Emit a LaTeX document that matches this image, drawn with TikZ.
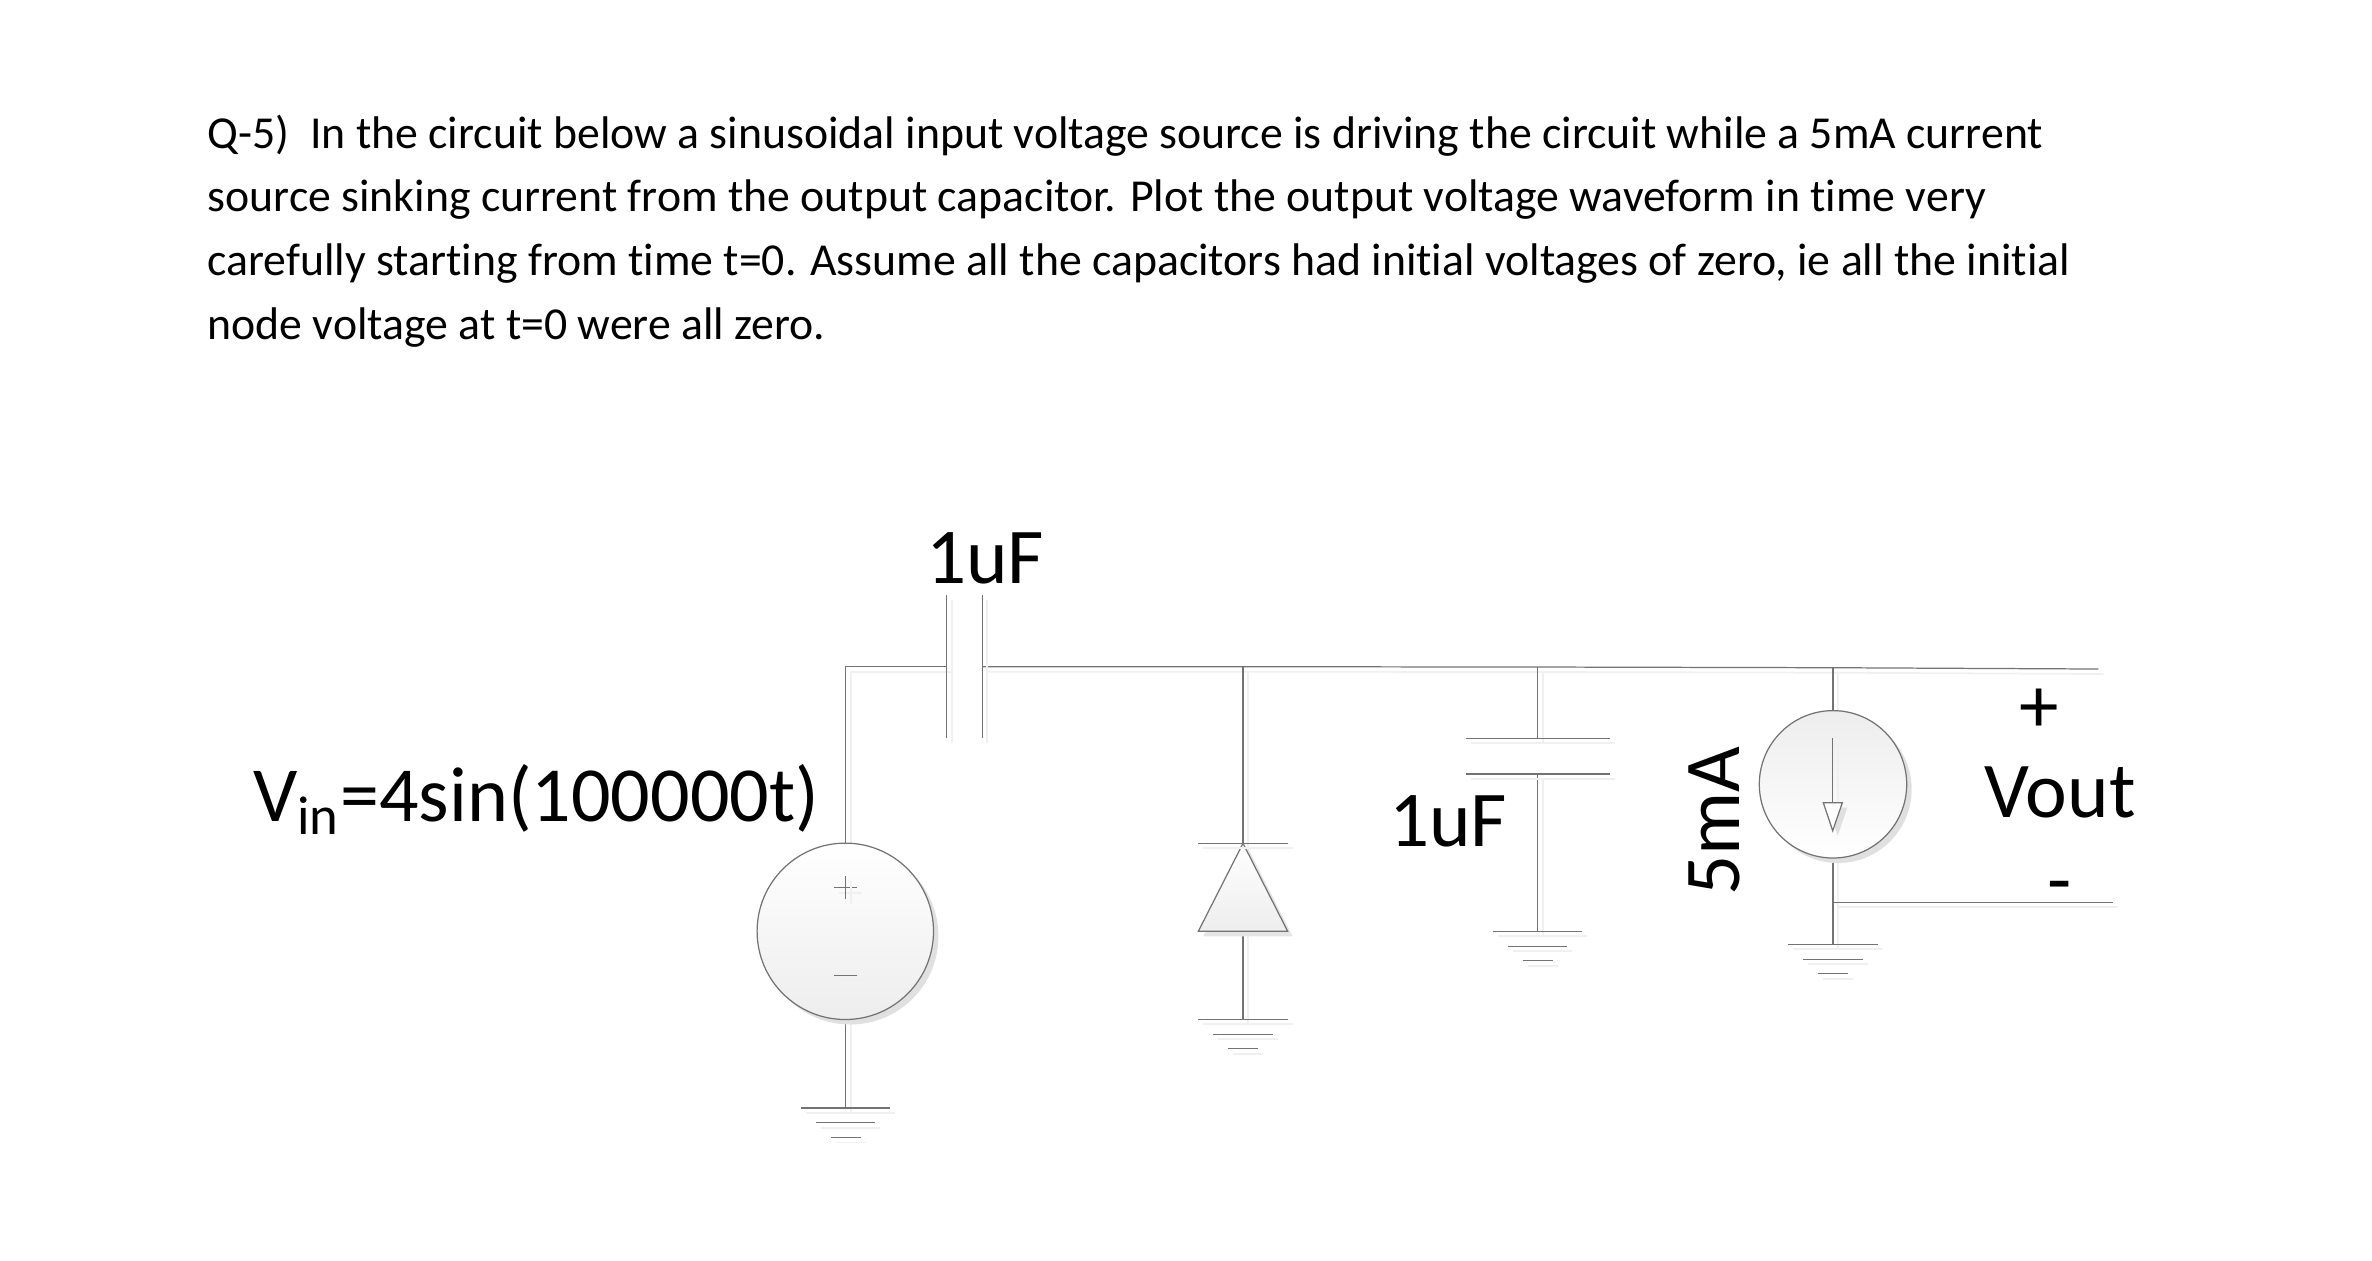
\documentclass[tikz,border=0pt]{standalone}
\usepackage{fontspec}
\setmainfont[Ligatures=CommonOff]{Carlito}
\usetikzlibrary{shadows}
\definecolor{wiregray}{gray}{0.45}
\definecolor{shadegray}{gray}{0.94}
\tikzset{
	wire/.style={draw=wiregray, line width=0.35pt,
		preaction={draw=shadegray, line width=0.5pt, transform canvas={xshift=0.05cm, yshift=-0.05cm}}},
	source/.style={circle, draw=wiregray, line width=0.35pt, inner sep=0pt,
		drop shadow={shadow xshift=0.05cm, shadow yshift=-0.05cm, fill=black!12, opacity=1}},
	question/.style={anchor=base west, inner sep=0pt, font=\fontsize{13.02pt}{15pt}\selectfont},
	bigtext/.style={anchor=base, inner sep=0pt, font=\fontsize{22.5pt}{26pt}\selectfont}
}

\begin{document}
\begin{tikzpicture}[x=1cm, y=-1cm]
	\useasboundingbox (0,0) rectangle (23.72,12.6);

	% 题目文字
	\node[question] (qa) at (2.07,1.482) {Q-5)\ \ In the circuit below a sinusoidal input voltage source is driving the circuit while a 5mA current};
	\node[question] (qb) at (2.07,2.115) {source sinking current from the output capacitor. Plot the output voltage waveform in time very};
	\node[question] (qc) at (2.07,2.755) {carefully starting from time t=0. Assume all the capacitors had initial voltages of zero, ie all the initial};
	\node[question] (qd) at (2.07,3.395) {node voltage at t=0 were all zero.};

	% 电路节点
	\coordinate (corner) at (8.457,6.667);
	\coordinate (capal) at (9.467,6.667);
	\coordinate (capar) at (9.823,6.667);
	\coordinate (ndiode) at (12.43,6.667);
	\coordinate (ncap) at (15.377,6.67);
	\coordinate (nisrc) at (18.33,6.677);
	\coordinate (outp) at (20.983,6.69);
	\coordinate (capbt) at (15.377,7.383);
	\coordinate (capbb) at (15.377,7.74);
	\coordinate (dtop) at (12.43,8.433);
	\coordinate (dbase) at (12.43,9.313);
	\coordinate (nout) at (18.33,9.023);
	\coordinate (outm) at (21.127,9.023);
	\coordinate (gvin) at (8.457,11.08);
	\coordinate (gdiode) at (12.43,10.193);
	\coordinate (gcap) at (15.377,9.313);
	\coordinate (gisrc) at (18.33,9.443);

	% 连线
	\draw[wire] (capal) -- (corner) -- (8.457,8.433);
	\draw[wire] (capar) -- (ndiode) -- (ncap) -- (nisrc) -- (outp);
	\draw[wire] (ndiode) -- (dtop);
	\draw[wire] (dbase) -- (gdiode);
	\draw[wire] (ncap) -- (capbt);
	\draw[wire] (capbb) -- (gcap);
	\draw[wire] (nisrc) -- (gisrc);
	\draw[wire] (nout) -- (outm);
	\draw[wire] (8.457,10.193) -- (gvin);

	% 电容
	\draw[wire] (9.467,5.95) -- (9.467,7.383);
	\draw[wire] (9.823,5.95) -- (9.823,7.383);
	\draw[wire] (14.66,7.383) -- (16.10,7.383);
	\draw[wire] (14.66,7.74) -- (16.10,7.74);

	% 电压源
	\node[source, minimum size=1.764cm, top color=white, bottom color=black!7] (vin) at (8.453,9.313) {};
	\draw[wire] (8.343,8.877) -- (8.57,8.877);
	\draw[wire] (8.457,8.76) -- (8.457,8.987);
	\draw[wire] (8.343,9.753) -- (8.57,9.753);

	% 二极管
	\fill[black!10] ([xshift=0.05cm, yshift=-0.05cm]dtop) -- (12.927,9.363) -- (12.033,9.363) -- cycle;
	\draw[draw=wiregray, line width=0.35pt, top color=white, bottom color=black!7] (dtop) -- (12.877,9.313) -- (11.983,9.313) -- cycle;
	\draw[wire] (11.983,8.433) -- (12.877,8.433);

	% 电流源
	\node[source, minimum size=1.474cm, top color=black!7, bottom color=white] (isrc) at (18.33,7.843) {};
	\draw[wire] (18.327,7.38) -- (18.327,8.027);
	\fill[black!12] (18.283,8.077) -- (18.473,8.077) -- (18.377,8.357) -- cycle;
	\draw[draw=wiregray, fill=white, line width=0.35pt] (18.233,8.027) -- (18.423,8.027) -- (18.327,8.307) -- cycle;

	% 接地
	\foreach \g in {gvin, gdiode, gcap, gisrc} {
		\draw[wire] ([xshift=-0.447cm]\g) -- ([xshift=0.447cm]\g);
		\draw[wire] ([xshift=-0.297cm, yshift=-0.148cm]\g) -- ([xshift=0.297cm, yshift=-0.148cm]\g);
		\draw[wire] ([xshift=-0.15cm, yshift=-0.295cm]\g) -- ([xshift=0.15cm, yshift=-0.295cm]\g);
	}

	% 标签
	\node[bigtext] (capalabel) at (9.85,5.83) {1uF};
	\node[bigtext] (capblabel) at (14.48,8.467) {1uF};
	\node[bigtext, anchor=base west, font=\fontsize{22.2pt}{26pt}\selectfont] (vinlabel) at (2.525,8.217) {V\textsubscript{in}=4sin(100000t)};
	\node[bigtext, rotate=90] (isrclabel) at (17.395,8.21) {5mA};
	\node[bigtext] (vplus) at (20.39,7.32) {+};
	\node[bigtext] (voutlabel) at (20.60,8.177) {Vout};
	\node[bigtext] (vminus) at (20.60,9.06) {-};
\end{tikzpicture}
\end{document}
